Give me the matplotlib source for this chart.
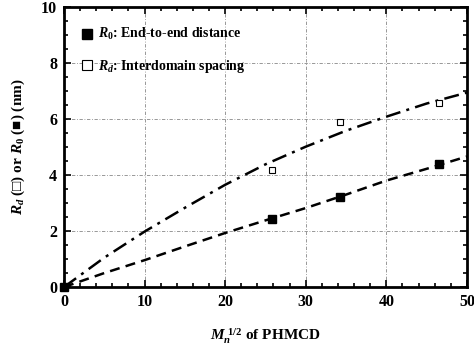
import matplotlib
matplotlib.use('Agg')
import matplotlib.pyplot as plt
from matplotlib.lines import Line2D
from matplotlib.ticker import MultipleLocator

plt.rcParams['font.family'] = ['Liberation Serif', 'DejaVu Sans']
plt.rcParams['font.weight'] = 'bold'
plt.rcParams['mathtext.fontset'] = 'custom'
plt.rcParams['mathtext.rm'] = 'Liberation Serif:bold'
plt.rcParams['mathtext.it'] = 'Liberation Serif:italic:bold'
plt.rcParams['mathtext.bf'] = 'Liberation Serif:bold'
plt.rcParams['mathtext.fallback'] = 'stix'

# measured points
mn_half = [0, 25.85, 34.24, 46.6]
r0 = [0, 2.42, 3.23, 4.38]
rd = [0, 4.17, 5.9, 6.58]

# fitted curves
fit_x = [0, 5, 10, 15, 20, 25, 30, 35, 40, 45, 50]
fit_r0 = [0, 0.5, 0.96, 1.45, 1.93, 2.38, 2.82, 3.3, 3.8, 4.22, 4.66]
fit_rd = [0, 1.05, 1.98, 2.83, 3.65, 4.38, 5.01, 5.58, 6.08, 6.55, 6.94]

fig = plt.figure(figsize=(4.74, 3.62), dpi=100)
ax = fig.add_axes([0.135, 0.207, 0.85, 0.774])

ax.plot(fit_x, fit_rd, color='black', lw=1.8, linestyle=(0, (6, 2.5, 1.2, 2.5)))
ax.plot(fit_x, fit_r0, color='black', lw=1.8, linestyle=(0, (4, 2.5)))
ax.plot(mn_half, rd, 's', ms=5, mfc='white', mec='black', mew=0.8, clip_on=False)
ax.plot(mn_half, r0, 's', ms=6, color='black', clip_on=False)

ax.set_xlim(0, 50)
ax.set_ylim(0, 10)
ax.xaxis.set_major_locator(MultipleLocator(10))
ax.xaxis.set_minor_locator(MultipleLocator(2))
ax.yaxis.set_major_locator(MultipleLocator(2))
ax.yaxis.set_minor_locator(MultipleLocator(0.5))
ax.tick_params(which='both', direction='in', top=True, right=True, width=1.2)
ax.tick_params(which='major', length=5, labelsize=11.5, pad=5)
ax.tick_params(which='minor', length=3)
for lab in ax.get_xticklabels() + ax.get_yticklabels():
    lab.set_fontweight('bold')
for s in ax.spines.values():
    s.set_linewidth(2)

ax.grid(True, which='major', color='#888888', lw=0.6, linestyle=(0, (4, 2, 1, 2)))

ax.set_xlabel(r'$M_n^{\ 1/2}$ of PHMCD', fontsize=11, fontweight='bold', labelpad=12)
ax.set_ylabel('$R_d$ (\u25a1) or $R_0$ (\u25a0) (nm)', fontsize=11,
              fontweight='bold', labelpad=10)

handles = [
    Line2D([], [], marker='s', ls='none', ms=7, color='black'),
    Line2D([], [], marker='s', ls='none', ms=7, mfc='white', mec='black', mew=0.8),
]
ax.legend(handles, [r'$R_0$: End-to-end distance', r'$R_d$: Interdomain spacing'],
          loc='upper left', bbox_to_anchor=(0.005, 0.975), frameon=False,
          fontsize=10, handletextpad=0.2, handlelength=1.2, labelspacing=1.1,
          borderaxespad=0.5)

fig.savefig('out.png', dpi=100)
